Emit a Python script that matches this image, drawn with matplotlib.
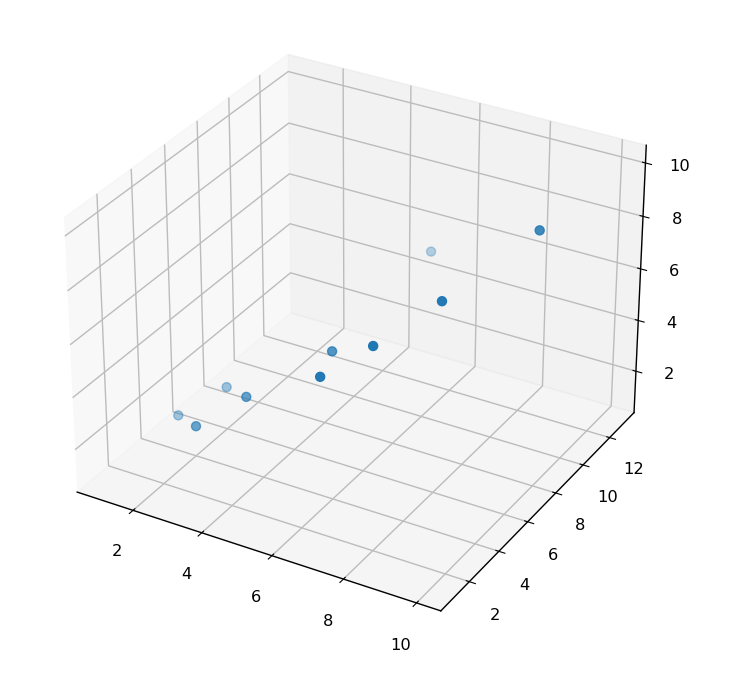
import matplotlib

matplotlib.use("Agg")
import matplotlib.pyplot as plt

x = [1, 2, 3, 4, 5, 6, 7, 8, 9, 10]
y = [5, 6, 2, 3, 13, 4, 1, 2, 4, 8]
z = [1, 2, 3, 4, 5, 6, 7, 8, 9, 10]

plt.rcParams["font.size"] = 11.7
plt.rcParams["grid.linewidth"] = 1.0
plt.rcParams["grid.color"] = "#bcbcbc"
plt.rcParams["axes.linewidth"] = 1.0

fig = plt.figure(figsize=(7.37, 6.73), dpi=100)
ax = fig.add_axes([-0.0034, 0.0316, 0.962, 0.962], projection="3d")
ax.scatter(x, y, z, s=42)
ax.tick_params(axis="x", pad=9.5)
ax.tick_params(axis="y", pad=8.5)
ax.tick_params(axis="z", pad=7)
fig.savefig("out.png", dpi=100)
